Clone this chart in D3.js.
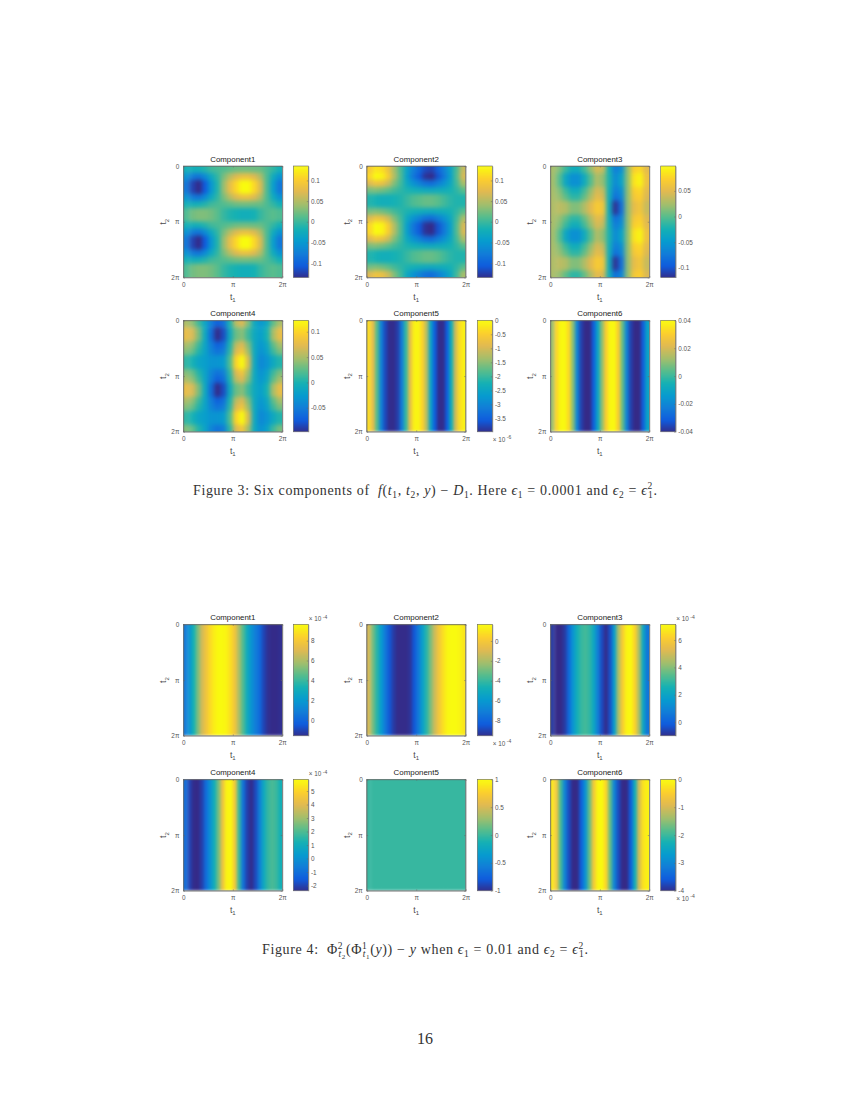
<!DOCTYPE html>
<html>
<head>
<meta charset="utf-8">
<title>Figures 3 and 4</title>
<script src="https://cdn.jsdelivr.net/npm/d3@7"></script>
<style>
    html, body { margin: 0; padding: 0; background: #fff; }
    svg { display: block; }
    text { font-family: "Liberation Sans", sans-serif; fill: #4a4a4a; }
    .title { font-size: 7.9px; fill: #222; text-anchor: middle; }
    .axis text { font-size: 6.4px; fill: #555; font-family: "Liberation Sans", sans-serif; }
    .axis path, .axis line { stroke: #666; stroke-width: 0.5; }
    .frame { fill: none; stroke: #666; stroke-width: 0.6; }
    .caption { font-family: "Liberation Serif", serif; font-size: 14px; fill: #333; }
    .pagenum { font-family: "Liberation Serif", serif; font-size: 16px; fill: #333; text-anchor: middle; }
</style>
</head>
<body>
<div id="page"></div>
<script>
"use strict";

// Figure 3, panels 1-4: values in 1e-2 at 16 columns x 16 rows.
var f3c1peak = [-8,-12,-13.5,-10.5,-5,-1,4,8,11,13.5,13.5,11,7,1,-4,-8];
var f3c1high = [-5.3,-7.6,-8.2,-6.1,-2.8,-0.3,2.8,5.3,7.3,8.5,8.5,7.3,4.9,1,-2.4,-5.3];
var f3c1low = [-1.7,-1.9,-1.8,-0.9,0.3,0.8,1.2,1.7,2.3,2.5,2.5,2.3,2.1,1,-0.2,-1.7];
var f3c1trough = [1,2.5,3,3,2.5,1.5,0,-1,-1.5,-2,-2,-1.5,0,1,1.5,1];
var fig3comp1 = [f3c1low,f3c1high,f3c1peak,f3c1peak,f3c1high,f3c1low,f3c1trough,f3c1trough,
                 f3c1low,f3c1high,f3c1peak,f3c1peak,f3c1high,f3c1low,f3c1trough,f3c1trough];

var f3c2top = [9.8,12,11.5,8.8,4.4,0.8,-3.6,-7.1,-9.3,-11.5,-12,-9.8,-7.2,-3.65,0.8,6.2];
var f3c2peak = [11,13.5,13,10,5,1,-4,-8,-10.5,-13,-13.5,-11,-8,-4,1,7];
var f3c2high = [7.4,9,8.5,6.4,3,0.4,-2.8,-5.3,-6.9,-8.5,-8.9,-7.3,-5.5,-2.95,0.4,4.6];
var f3c2low = [2.6,3,2.5,1.6,0.5,-0.4,-1.2,-1.7,-2.1,-2.5,-2.6,-2.3,-2.05,-1.55,-0.4,1.4];
var f3c2trough = [-1,-1.5,-2,-2,-1.5,-1,0,1,1.5,2,2,1.5,0.5,-0.5,-1,-1];
var fig3comp2 = [f3c2top,f3c2peak,f3c2high,f3c2low,f3c2trough,f3c2trough,f3c2low,f3c2high,
                 f3c2peak,f3c2peak,f3c2high,f3c2low,f3c2trough,f3c2trough,f3c2low,f3c2high];

var f3c3a = [2.5,0,-3.5,-5.5,-5.5,-3,0,3,2,-2,-6,-4,2,8.5,9.5,6];
var f3c3m6 = [2.7,1.4,-0.9,-2.7,-2.7,-0.6,2,4.6,3.8,-2.4,-7,-5.6,2,7.3,8,5.2];
var f3c3m4 = [2.8,2.1,0.4,-1.3,-1.3,0.6,3,5.4,4.7,-2.6,-8,-6.4,2,6.6,7.4,4.8];
var f3c3b = [3,3.5,3,1.5,1.5,3,5,7,6.5,-3,-11.5,-8,2,5.5,6.5,4];
var fig3comp3 = [f3c3m6,f3c3a,f3c3a,f3c3m6,f3c3m4,f3c3b,f3c3b,f3c3m4,
                 f3c3m6,f3c3a,f3c3a,f3c3m6,f3c3m4,f3c3b,f3c3b,f3c3m4];

var f3c4a = [8,7,3.5,-1,-6,-9.7,-8,-1,3,4,1.5,-1,-2,0,5,8];
var f3c4m6 = [5.2,4.2,1.5,-1.4,-4.8,-6.9,-5.8,0.2,5.8,7.2,3.7,-1,-2.8,-1.2,2.6,5];
var f3c4m4 = [3.8,2.8,0.5,-1.6,-4.2,-5.6,-4.7,0.8,7.2,8.8,4.8,-1,-3.2,-1.8,1.4,3.5];
var f3c4b = [1,0,-1.5,-2,-3,-3,-2.5,2,10,12.2,7,-1,-4,-3,-1,0.5];
var fig3comp4 = [f3c4m6,f3c4a,f3c4a,f3c4m6,f3c4m4,f3c4b,f3c4b,f3c4m4,
                 f3c4m6,f3c4a,f3c4a,f3c4m6,f3c4m4,f3c4b,f3c4b,f3c4m4];

// Panels that do not vary along t2: one value per t1 column.
var fig3comp5 = [-0.3,-0.8,-1.8,-3,-3.7,-3.95,-3.95,-3.8,-3.1,-2,-0.8,-0.1,-0.05,-0.4,-1.2,-2.5,-3.5,-3.95,-3.95,-3.5,-2.3,-1,-0.3,-0.1];
var fig3comp6 = [1.2,3.2,3.95,3.95,3.3,1,-2,-3.6,-4,-4,-3,-1,1,3,3.9,3.95,3,0.6,-2,-3.6,-4,-4,-3,-1];
var fig4comp1 = [0.8,1.8,3.4,5.2,6.8,7.8,8.7,9.3,9.6,9.6,9.4,8.8,7.8,6,4.5,3,1.8,0.9,0.2,-0.9,-1.4,-1.55,-1.55,-1.45];
var fig4comp2 = [-1,-2.8,-4.2,-5.8,-7.2,-8.4,-9.1,-9.5,-9.5,-9.5,-9.3,-8.4,-7.2,-5.6,-4.2,-2.7,-1.2,0,0.9,1.5,1.65,1.65,1.5,1.1];
var fig4comp3 = [-0.7,-1,-1,-0.7,0.3,1.5,2.5,3.05,3.25,3,2.2,0.9,-0.4,-0.95,-0.3,1.8,4.5,6.1,7,7.1,6.3,4.5,2.2,0.6];
var fig4comp4 = [-1,-1.9,-2.35,-2.4,-2,-1,0,1.1,2.5,4.4,5.7,5.8,4.6,1.8,-0.8,-2,-2.35,-1.8,-0.5,0.9,1.7,2,1.8,1.2];
var fig4comp5 = [0,0,0,0,0,0,0,0,0,0,0,0,0,0,0,0,0,0,0,0,0,0,0,0];
var fig4comp6 = [-0.2,-0.6,-1.9,-3,-3.7,-4,-4,-3.5,-2.8,-1.7,-0.6,-0.05,0,-0.4,-1.7,-3,-3.7,-4,-4,-3.5,-2.3,-1,-0.25,-0.1];

// Colour limits and colorbar ticks, same units as the arrays above.
var fig3domains = [[-13.5,13.5],[-13.5,13.5],[-11.9,9.86],[-9.74,12.26],[-3.98,0],[-4,4]];
var fig3ticks = [[10,5,0,-5,-10],[10,5,0,-5,-10],[5,0,-5,-10],[10,5,0,-5],
                 [0,-0.5,-1,-1.5,-2,-2.5,-3,-3.5],[4,2,0,-2,-4]];
var fig3divisors = [100,100,100,100,1,100];
var fig3exponents = ["","","","","-6",""];
var fig3exponentSide = ["","","","","below",""];

var fig4domains = [[-1.58,9.65],[-9.54,1.68],[-1,7.15],[-2.39,5.87],[-1,1],[-4,0]];
var fig4ticks = [[8,6,4,2,0],[0,-2,-4,-6,-8],[6,4,2,0],[5,4,3,2,1,0,-1,-2],
                 [1,0.5,0,-0.5,-1],[0,-1,-2,-3,-4]];
var fig4divisors = [1,1,1,1,1,1];
var fig4exponents = ["-4","-4","-4","-4","","-4"];
var fig4exponentSide = ["above","below","above","above","","below"];

var componentNames = ["Component1","Component2","Component3","Component4","Component5","Component6"];
var axisTicks = [0, Math.PI, 2 * Math.PI];
var axisTickLabels = ["0", "\u03c0", "2\u03c0"];

// parula, sampled evenly
var parulaStops = ["#352a87","#0f5cdd","#127dd8","#079ccf","#15b1b4","#59bd8c","#a5be6b","#e1b952","#fcce2e","#f9fb0e"];

var fig3caption = [
    {t: "Figure 3: Six components of \u00a0"},
    {t: "f", i: 1}, {t: "("}, {t: "t", i: 1}, {t: "1", s: 9.5, r: -3}, {t: ", "}, {t: "t", i: 1}, {t: "2", s: 9.5, r: -3},
    {t: ", "}, {t: "y", i: 1}, {t: ") \u2212 "}, {t: "D", i: 1}, {t: "1", s: 9.5, r: -3},
    {t: ". Here "}, {t: "\u03f5", i: 1}, {t: "1", s: 9.5, r: -3}, {t: " = 0.0001 and "},
    {t: "\u03f5", i: 1}, {t: "2", s: 9.5, r: -3}, {t: " = "}, {t: "\u03f5", i: 1},
    {t: "2", s: 9.5, r: 5.5}, {t: "1", s: 9.5, r: -3, dx: -4.75}, {t: "."}
];
var fig4caption = [
    {t: "Figure 4: \u00a0"},
    {t: "\u03a6"}, {t: "2", s: 9.5, r: 5.5}, {t: "t", s: 9.5, r: -3, i: 1, dx: -4.75}, {t: "2", s: 7, r: -5},
    {t: "("}, {t: "\u03a6"}, {t: "1", s: 9.5, r: 5.5}, {t: "t", s: 9.5, r: -3, i: 1, dx: -4.75}, {t: "1", s: 7, r: -5},
    {t: "("}, {t: "y", i: 1}, {t: ")) \u2212 "}, {t: "y", i: 1}, {t: " when "},
    {t: "\u03f5", i: 1}, {t: "1", s: 9.5, r: -3}, {t: " = 0.01 and "},
    {t: "\u03f5", i: 1}, {t: "2", s: 9.5, r: -3}, {t: " = "}, {t: "\u03f5", i: 1},
    {t: "2", s: 9.5, r: 5.5}, {t: "1", s: 9.5, r: -3, dx: -4.75}, {t: "."}
];

var panelLefts = [183.3, 366.7, 550.3],
    barLefts = [293.3, 477.3, 660.7],
    rowTops = [166, 320.3, 624.3, 779.3],
    panelW = 99,
    panelH = 111.5,
    barW = 15;

var svg = d3.select("#page").append("svg")
    .attr("width", 850)
    .attr("height", 1100);

svg.append("rect").attr("width", 850).attr("height", 1100).attr("fill", "#fff");

var defs = svg.append("defs");

function addBlur(id, sd) {
    defs.append("filter")
        .attr("id", id)
        .attr("color-interpolation-filters", "sRGB")
        .append("feGaussianBlur")
        .attr("stdDeviation", sd);
}
addBlur("blurGrid", 2.2);
addBlur("blurStripe", 1.4);
addBlur("blurBar", 1);

var parula = d3.scaleLinear()
    .domain(parulaStops.map(function(d, i) { return i / (parulaStops.length - 1); }))
    .range(parulaStops)
    .interpolate(d3.interpolateRgb);

var clipCount = 0;

function drawHeat(g, values, domain) {
    // Flat arrays only vary along t1, they get one row.
    var rows = Array.isArray(values[0]) ? values : [values],
        nCols = rows[0].length,
        xBand = d3.scaleBand().domain(d3.range(nCols)).range([0, panelW]),
        yBand = d3.scaleBand().domain(d3.range(rows.length)).range([0, panelH]),
        norm = d3.scaleLinear().domain(domain).range([0, 1]).clamp(true),
        bleed = 12,
        id = "clip" + (clipCount++);

    g.append("clipPath").attr("id", id)
        .append("rect").attr("width", panelW).attr("height", panelH);

    var cells = g.append("g").attr("clip-path", "url(#" + id + ")")
        .append("g")
        .attr("filter", rows.length > 1 ? "url(#blurGrid)" : "url(#blurStripe)");

    // Outer cells run past the clip so the blur does not fade at the edge.
    // Inner cells overlap by a pixel so no seams show.
    rows.forEach(function(row, j) {
        cells.selectAll(null)
            .data(row)
            .enter()
            .append("rect")
            .attr("x", function(d, i) { return i === 0 ? -bleed : xBand(i); })
            .attr("y", j === 0 ? -bleed : yBand(j))
            .attr("width", function(d, i) {
                return xBand.bandwidth() + (i === 0 || i === nCols - 1 ? bleed : 1);
            })
            .attr("height", yBand.bandwidth() + (j === 0 || j === rows.length - 1 ? bleed : 1))
            .attr("fill", function(d) { return parula(norm(d)); });
    });
}

function drawAxes(g) {
    var xScale = d3.scaleLinear().domain([0, 2 * Math.PI]).range([0, panelW]),
        yScale = d3.scaleLinear().domain([0, 2 * Math.PI]).range([0, panelH]),
        label = function(d, i) { return axisTickLabels[i]; };

    g.append("g").attr("class", "axis")
        .attr("transform", "translate(0," + panelH + ")")
        .call(d3.axisBottom(xScale).tickValues(axisTicks).tickFormat(label)
            .tickSizeInner(-1.5).tickSizeOuter(0).tickPadding(4.6));
    g.append("g").attr("class", "axis")
        .call(d3.axisLeft(yScale).tickValues(axisTicks).tickFormat(label)
            .tickSizeInner(-1.5).tickSizeOuter(0).tickPadding(4));
    g.append("g").attr("class", "axis")
        .call(d3.axisTop(xScale).tickValues(axisTicks).tickFormat("")
            .tickSizeInner(-1.5).tickSizeOuter(0));
    g.append("g").attr("class", "axis")
        .attr("transform", "translate(" + panelW + ",0)")
        .call(d3.axisRight(yScale).tickValues(axisTicks).tickFormat("")
            .tickSizeInner(-1.5).tickSizeOuter(0));

    g.append("rect").attr("class", "frame").attr("width", panelW).attr("height", panelH);

    var xLabel = g.append("text")
        .attr("x", panelW / 2)
        .attr("y", panelH + 22)
        .attr("text-anchor", "middle")
        .style("font-size", "8.6px");
    xLabel.append("tspan").text("t");
    xLabel.append("tspan").attr("dy", 2.2).style("font-size", "6px").text("1");

    var yLabel = g.append("text")
        .attr("transform", "translate(-17," + (panelH / 2) + ") rotate(-90)")
        .attr("text-anchor", "middle")
        .style("font-size", "8.6px");
    yLabel.append("tspan").text("t");
    yLabel.append("tspan").attr("dy", 2.2).style("font-size", "6px").text("2");
}

function drawColorbar(g, domain, ticks, divisor, exponent, side) {
    var yBar = d3.scaleLinear().domain(domain).range([panelH, 0]),
        levels = d3.range(64),
        band = d3.scaleBand().domain(levels).range([panelH, 0]),
        id = "clip" + (clipCount++);

    g.append("clipPath").attr("id", id)
        .append("rect").attr("width", barW).attr("height", panelH);

    // Drawn bottom up, each level tucks under the one after it.
    g.append("g").attr("clip-path", "url(#" + id + ")")
        .append("g").attr("filter", "url(#blurBar)")
        .selectAll("rect")
        .data(levels)
        .enter()
        .append("rect")
        .attr("x", -4)
        .attr("y", function(d) { return band(d) - (d === 63 ? 4 : 0); })
        .attr("width", barW + 8)
        .attr("height", function(d) { return band.bandwidth() + (d === 0 ? 4 : d === 63 ? 4 : 1); })
        .attr("fill", function(d) { return parula((d + 0.5) / 64); });

    g.append("g").attr("class", "axis")
        .attr("transform", "translate(" + barW + ",0)")
        .call(d3.axisRight(yBar).tickValues(ticks)
            .tickFormat(function(d) { return String(d / divisor); })
            .tickSizeInner(-1.5).tickSizeOuter(0).tickPadding(2.6));

    g.append("rect").attr("class", "frame").attr("width", barW).attr("height", panelH);

    if (exponent) {
        var t = g.append("text")
            .attr("x", barW + 0.5)
            .attr("y", side === "above" ? -3 : panelH + 10)
            .style("font-size", "6.4px")
            .style("fill", "#555");
        t.append("tspan").text("\u00d7 10");
        t.append("tspan").attr("dy", -2.5).style("font-size", "5px").text(" " + exponent);
    }
}

function drawPanel(rowIndex, colIndex, name, values, domain, ticks, divisor, exponent, side) {
    var g = svg.append("g")
        .attr("transform", "translate(" + panelLefts[colIndex] + "," + rowTops[rowIndex] + ")");
    drawHeat(g, values, domain);
    drawAxes(g);
    g.append("text").attr("class", "title").attr("x", panelW / 2).attr("y", -4.5).text(name);

    var bar = svg.append("g")
        .attr("transform", "translate(" + barLefts[colIndex] + "," + rowTops[rowIndex] + ")");
    drawColorbar(bar, domain, ticks, divisor, exponent, side);
}

[fig3comp1, fig3comp2, fig3comp3, fig3comp4, fig3comp5, fig3comp6].forEach(function(values, i) {
    drawPanel(i < 3 ? 0 : 1, i % 3, componentNames[i], values, fig3domains[i], fig3ticks[i],
        fig3divisors[i], fig3exponents[i], fig3exponentSide[i]);
});

[fig4comp1, fig4comp2, fig4comp3, fig4comp4, fig4comp5, fig4comp6].forEach(function(values, i) {
    drawPanel(i < 3 ? 2 : 3, i % 3, componentNames[i], values, fig4domains[i], fig4ticks[i],
        fig4divisors[i], fig4exponents[i], fig4exponentSide[i]);
});

function drawCaption(segments, x, y, length) {
    var text = svg.append("text")
        .attr("class", "caption")
        .attr("x", x)
        .attr("y", y)
        .attr("textLength", length)
        .attr("lengthAdjust", "spacing")
        .attr("xml:space", "preserve");
    var rise = 0;
    segments.forEach(function(seg) {
        var r = seg.r || 0;
        text.append("tspan")
            .attr("dy", rise - r)
            .attr("dx", seg.dx || 0)
            .style("font-size", (seg.s || 14) + "px")
            .style("font-style", seg.i ? "italic" : "normal")
            .text(seg.t);
        rise = r;
    });
}

drawCaption(fig3caption, 193, 494.5, 464);
drawCaption(fig4caption, 262, 954, 326);

svg.append("text").attr("class", "pagenum").attr("x", 425).attr("y", 1044).text("16");
</script>
</body>
</html>
